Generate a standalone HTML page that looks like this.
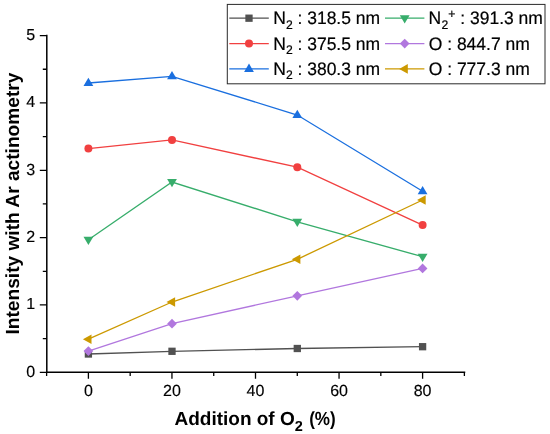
<!DOCTYPE html>
<html><head><meta charset="utf-8"><title>Intensity with Ar actinometry</title>
<style>
html,body{margin:0;padding:0;background:#fff;}
svg{display:block;}
text{font-family:"Liberation Sans",sans-serif;fill:#000;text-rendering:geometricPrecision;}
.tk{font-size:16px;stroke:#000;stroke-width:0.15px;}
.ti{font-size:19px;font-weight:bold;}
.lg{font-size:18px;stroke:#000;stroke-width:0.2px;}
.sb{font-size:12.5px;}
</style></head><body>
<svg width="550" height="434" viewBox="0 0 550 434">
<rect width="550" height="434" fill="#fff"/>

<polyline points="88.40,354.00 172.00,351.30 297.30,348.50 422.60,346.70" fill="none" stroke="#515151" stroke-width="1.33"/>
<rect x="84.75" y="350.35" width="7.30" height="7.30" fill="#515151"/>
<rect x="168.35" y="347.65" width="7.30" height="7.30" fill="#515151"/>
<rect x="293.65" y="344.85" width="7.30" height="7.30" fill="#515151"/>
<rect x="418.95" y="343.05" width="7.30" height="7.30" fill="#515151"/>
<polyline points="88.40,148.60 172.00,139.90 297.30,167.20 422.60,225.10" fill="none" stroke="#F14040" stroke-width="1.33"/>
<circle cx="88.40" cy="148.60" r="4" fill="#F14040"/>
<circle cx="172.00" cy="139.90" r="4" fill="#F14040"/>
<circle cx="297.30" cy="167.20" r="4" fill="#F14040"/>
<circle cx="422.60" cy="225.10" r="4" fill="#F14040"/>
<polyline points="88.40,83.00 172.00,76.30 297.30,115.00 422.60,191.20" fill="none" stroke="#1A6FDF" stroke-width="1.33"/>
<polygon points="88.40,77.70 93.30,86.00 83.50,86.00" fill="#1A6FDF"/>
<polygon points="172.00,71.00 176.90,79.30 167.10,79.30" fill="#1A6FDF"/>
<polygon points="297.30,109.70 302.20,118.00 292.40,118.00" fill="#1A6FDF"/>
<polygon points="422.60,185.90 427.50,194.20 417.70,194.20" fill="#1A6FDF"/>
<polyline points="88.40,239.70 172.00,182.00 297.30,221.80 422.60,256.70" fill="none" stroke="#37AD6B" stroke-width="1.33"/>
<polygon points="88.40,245.00 93.30,236.70 83.50,236.70" fill="#37AD6B"/>
<polygon points="172.00,187.30 176.90,179.00 167.10,179.00" fill="#37AD6B"/>
<polygon points="297.30,227.10 302.20,218.80 292.40,218.80" fill="#37AD6B"/>
<polygon points="422.60,262.00 427.50,253.70 417.70,253.70" fill="#37AD6B"/>
<polyline points="88.40,351.10 172.00,323.70 297.30,295.80 422.60,268.40" fill="none" stroke="#B177DE" stroke-width="1.33"/>
<polygon points="88.40,346.25 93.25,351.10 88.40,355.95 83.55,351.10" fill="#B177DE"/>
<polygon points="172.00,318.85 176.85,323.70 172.00,328.55 167.15,323.70" fill="#B177DE"/>
<polygon points="297.30,290.95 302.15,295.80 297.30,300.65 292.45,295.80" fill="#B177DE"/>
<polygon points="422.60,263.55 427.45,268.40 422.60,273.25 417.75,268.40" fill="#B177DE"/>
<polyline points="88.40,339.20 172.00,302.00 297.30,259.30 422.60,200.00" fill="none" stroke="#CC9900" stroke-width="1.33"/>
<polygon points="82.90,339.20 91.50,334.40 91.50,344.00" fill="#CC9900"/>
<polygon points="166.50,302.00 175.10,297.20 175.10,306.80" fill="#CC9900"/>
<polygon points="291.80,259.30 300.40,254.50 300.40,264.10" fill="#CC9900"/>
<polygon points="417.10,200.00 425.70,195.20 425.70,204.80" fill="#CC9900"/>
<g stroke="#000" stroke-width="1.5" fill="none">
<path d="M46.8,34.85 V372.3 M46.05,372.3 H465.25"/>
<path stroke-width="1.3" d="M46.8,372.30 h-7 M46.8,338.63 h-4 M46.8,304.96 h-7 M46.8,271.29 h-4 M46.8,237.62 h-7 M46.8,203.95 h-4 M46.8,170.28 h-7 M46.8,136.61 h-4 M46.8,102.94 h-7 M46.8,69.27 h-4 M46.8,35.60 h-7 M46.62,372.3 v3.8 M88.40,372.3 v6.5 M130.18,372.3 v3.8 M171.95,372.3 v6.5 M213.73,372.3 v3.8 M255.50,372.3 v6.5 M297.28,372.3 v3.8 M339.05,372.3 v6.5 M380.83,372.3 v3.8 M422.60,372.3 v6.5 M464.38,372.3 v3.8"/>
</g>
<text class="tk" x="35.1" y="376.70" text-anchor="end">0</text>
<text class="tk" x="35.1" y="309.36" text-anchor="end">1</text>
<text class="tk" x="35.1" y="242.02" text-anchor="end">2</text>
<text class="tk" x="35.1" y="174.68" text-anchor="end">3</text>
<text class="tk" x="35.1" y="107.34" text-anchor="end">4</text>
<text class="tk" x="35.1" y="40.00" text-anchor="end">5</text>
<text class="tk" x="88.40" y="395.5" text-anchor="middle">0</text>
<text class="tk" x="171.95" y="395.5" text-anchor="middle">20</text>
<text class="tk" x="255.50" y="395.5" text-anchor="middle">40</text>
<text class="tk" x="339.05" y="395.5" text-anchor="middle">60</text>
<text class="tk" x="422.60" y="395.5" text-anchor="middle">80</text>
<text class="ti" x="255.1" y="425.2" text-anchor="middle">Addition of O<tspan font-size="14.5" dy="5.5">2</tspan><tspan dy="-5.5" dx="6.3" textLength="26.6" lengthAdjust="spacingAndGlyphs">(%)</tspan></text>
<text class="ti" transform="translate(19,203.55) rotate(-90)" text-anchor="middle" textLength="262" lengthAdjust="spacingAndGlyphs">Intensity with Ar actinometry</text>
<rect x="227.3" y="4.4" width="317.7" height="79.4" fill="#fff" stroke="#2a2a2a" stroke-width="1"/>
<line x1="229.3" x2="268.8" y1="18.2" y2="18.2" stroke="#515151" stroke-width="1.33"/>
<rect x="245.35" y="14.55" width="7.30" height="7.30" fill="#515151"/>
<line x1="229.3" x2="268.8" y1="43.6" y2="43.6" stroke="#F14040" stroke-width="1.33"/>
<circle cx="249.00" cy="43.60" r="4" fill="#F14040"/>
<line x1="229.3" x2="268.8" y1="68.9" y2="68.9" stroke="#1A6FDF" stroke-width="1.33"/>
<polygon points="249.00,63.60 253.90,71.90 244.10,71.90" fill="#1A6FDF"/>
<line x1="385" x2="424.4" y1="18.2" y2="18.2" stroke="#37AD6B" stroke-width="1.33"/>
<polygon points="404.70,23.50 409.60,15.20 399.80,15.20" fill="#37AD6B"/>
<line x1="385" x2="424.4" y1="43.6" y2="43.6" stroke="#B177DE" stroke-width="1.33"/>
<polygon points="404.70,38.75 409.55,43.60 404.70,48.45 399.85,43.60" fill="#B177DE"/>
<line x1="385" x2="424.4" y1="68.9" y2="68.9" stroke="#CC9900" stroke-width="1.33"/>
<polygon points="399.20,68.90 407.80,64.10 407.80,73.70" fill="#CC9900"/>
<text class="lg" transform="translate(273.3,24.4) scale(0.972,1)">N<tspan class="sb" dy="4.8" dx="0.2">2</tspan><tspan dy="-4.8" dx="-0.3"> : 318.5 nm</tspan></text>
<text class="lg" transform="translate(273.3,49.5) scale(0.972,1)">N<tspan class="sb" dy="4.8" dx="0.2">2</tspan><tspan dy="-4.8" dx="-0.3"> : 375.5 nm</tspan></text>
<text class="lg" transform="translate(273.3,74.6) scale(0.972,1)">N<tspan class="sb" dy="4.8" dx="0.2">2</tspan><tspan dy="-4.8" dx="-0.3"> : 380.3 nm</tspan></text>
<text class="lg" transform="translate(428.5,24.4) scale(0.972,1)">N<tspan class="sb" dy="4.8" dx="0.4">2</tspan><tspan class="sb" dy="-11.5">+</tspan><tspan dy="6.7"> : 391.3 nm</tspan></text>
<text class="lg" transform="translate(428.7,49.5) scale(0.972,1)">O : 844.7 nm</text>
<text class="lg" transform="translate(428.7,74.6) scale(0.972,1)">O : 777.3 nm</text>
</svg>
</body></html>
